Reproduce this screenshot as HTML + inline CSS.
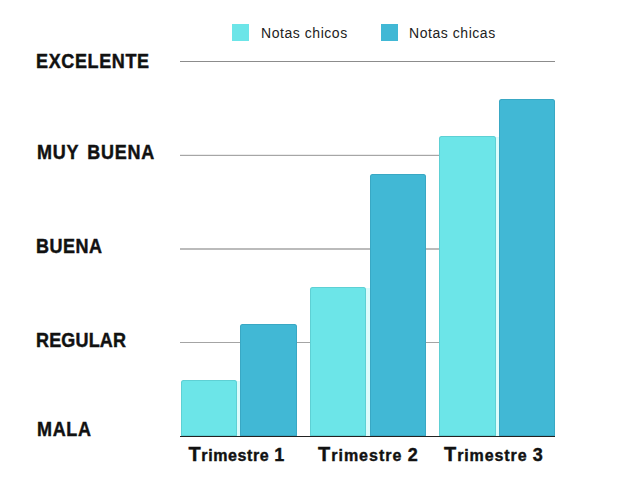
<!DOCTYPE html>
<html><head><meta charset="utf-8">
<style>
html,body{margin:0;padding:0;background:#fff;}
body{width:618px;height:499px;position:relative;overflow:hidden;font-family:"Liberation Sans",sans-serif;}
.g{position:absolute;left:180px;width:375px;height:1px;background:#9a9a9a;}
.ax{position:absolute;left:180px;width:375px;top:436px;height:1px;background:#222;}
.b{position:absolute;border-radius:2.5px 2.5px 0 0;box-shadow:inset 0 0 0 1px rgba(0,60,70,0.12);}
.l{background:#6CE5E8;}
.d{background:#41B8D5;}
.yl{position:absolute;transform-origin:0 0;-webkit-text-stroke:0.4px #111;font-weight:bold;line-height:1;color:#111;white-space:nowrap;}
.xl{position:absolute;transform-origin:0 0;-webkit-text-stroke:0.4px #111;font-weight:bold;line-height:20px;color:#111;white-space:nowrap;}
.lg{position:absolute;top:24px;width:17px;height:17px;}
.lt{position:absolute;line-height:1;color:#222;white-space:nowrap;}
</style></head><body>
<div class="lg l" style="left:232px"></div>
<div class="lt" style="left:261px;top:26px;font-size:14px;letter-spacing:0.55px">Notas chicos</div>
<div class="lg d" style="left:380.5px"></div>
<div class="lt" style="left:409px;top:26px;font-size:14px;letter-spacing:0.55px">Notas chicas</div>
<div class="g" style="top:61px;height:1px;background:#8c8c8c"></div>
<div class="g" style="top:155px;height:1px;background:#a6a6a6;box-shadow:0 -1px 0 #ececec"></div>
<div class="g" style="top:248px;height:2px;background:#bbbbbb"></div>
<div class="g" style="top:342px;height:1px;background:#a4a4a4"></div>
<div class="b l" style="left:181px;width:56px;top:380px;height:56px"></div>
<div class="b d" style="left:240px;width:57px;top:324px;height:112px"></div>
<div class="b l" style="left:310px;width:56px;top:287px;height:149px"></div>
<div class="b d" style="left:370px;width:56px;top:174px;height:262px"></div>
<div class="b l" style="left:439px;width:57px;top:136px;height:300px"></div>
<div class="b d" style="left:499px;width:56px;top:99px;height:337px"></div>
<div style="position:absolute;left:237px;width:3px;top:381px;height:55px;background:#dcfcfc"></div>
<div style="position:absolute;left:366px;width:4px;top:288px;height:148px;background:#dcfcfc"></div>
<div style="position:absolute;left:496px;width:3px;top:137px;height:299px;background:#dcfcfc"></div>
<div class="ax"></div>
<div class="yl" style="left:36px;top:52px;font-size:18px;letter-spacing:0.625px;word-spacing:0px;transform:scale(1,1.077)">EXCELENTE</div>
<div class="yl" style="left:37px;top:143px;font-size:18px;letter-spacing:0.75px;word-spacing:2.5px;transform:scale(1,1.077)">MUY BUENA</div>
<div class="yl" style="left:36px;top:237px;font-size:18px;letter-spacing:0.5px;word-spacing:0px;transform:scale(1,1.077)">BUENA</div>
<div class="yl" style="left:36px;top:331px;font-size:18px;letter-spacing:0.166px;word-spacing:0px;transform:scale(1,1.077)">REGULAR</div>
<div class="yl" style="left:37px;top:420px;font-size:18px;letter-spacing:0.667px;word-spacing:0px;transform:scale(1,1.077)">MALA</div>
<div class="xl" style="left:188.5px;top:444px;font-size:16px;letter-spacing:0.6px;transform:scale(1,1)"><span style="font-size:20px">T</span>rimestre <span style="font-size:18px">1</span></div>
<div class="xl" style="left:318px;top:444px;font-size:16px;letter-spacing:1.0px;transform:scale(1,1)"><span style="font-size:20px">T</span>rimestre <span style="font-size:18px">2</span></div>
<div class="xl" style="left:444px;top:444px;font-size:16px;letter-spacing:0.9px;transform:scale(1,1)"><span style="font-size:20px">T</span>rimestre <span style="font-size:18px">3</span></div>
</body></html>
